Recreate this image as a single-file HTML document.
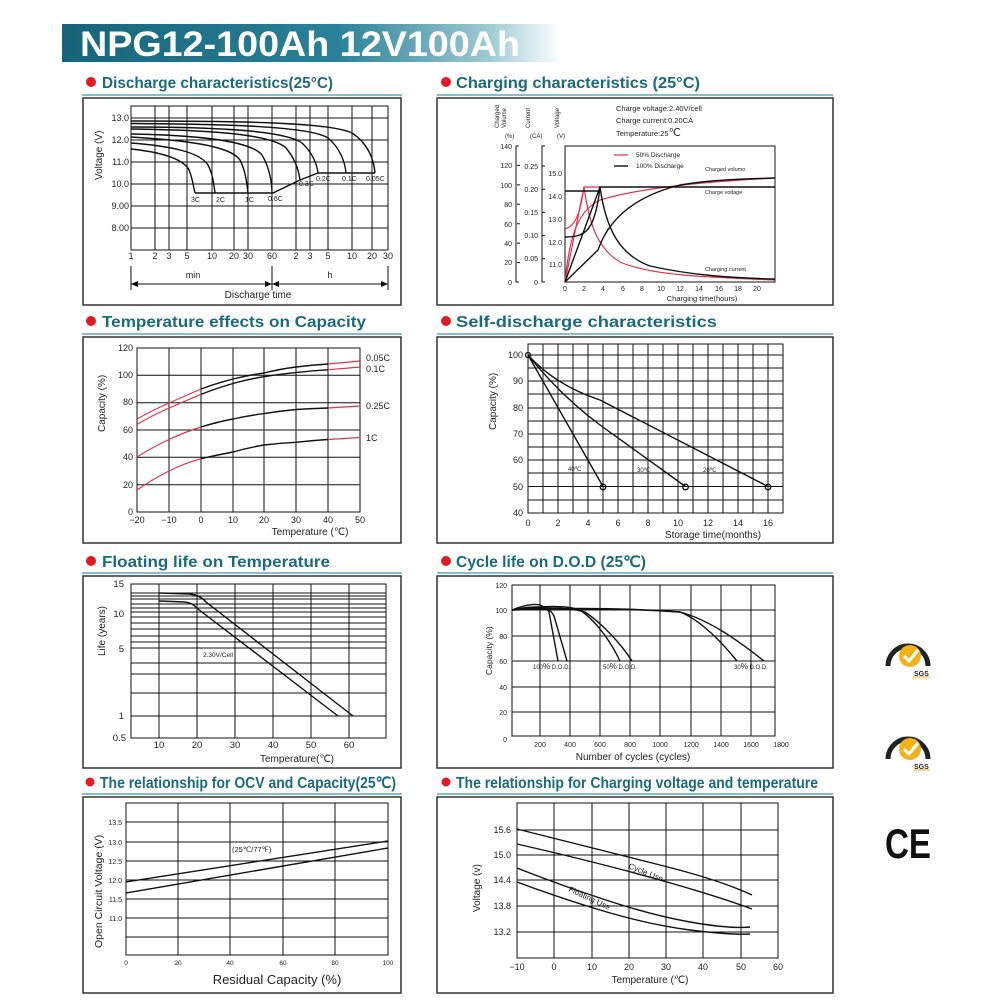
<!DOCTYPE html>
<html><head><meta charset="utf-8"><style>
html,body{margin:0;padding:0;background:#fff}
svg{display:block}
text{font-family:"Liberation Sans",Arial,sans-serif;fill:#222}
.t{font-weight:bold;fill:#1b6b7f;font-size:16px}
.g{stroke:#111;stroke-width:1;fill:none}
.c{stroke:#111;stroke-width:1.4;fill:none}
.r{stroke:#e0334f;stroke-width:1.2;fill:none}
.box{stroke:#333;stroke-width:1.5;fill:none}
.ul{stroke:#5aa9b9;stroke-width:1.5}
.s{font-size:9px}
.xs{font-size:7px}
</style></head><body>
<svg width="1000" height="1000" viewBox="0 0 1000 1000" xmlns="http://www.w3.org/2000/svg">
<defs>
<linearGradient id="hg" x1="0" x2="1" y1="0" y2="0">
<stop offset="0" stop-color="#17647a"/><stop offset="0.55" stop-color="#2a8197"/><stop offset="0.85" stop-color="#9cc9d3"/><stop offset="1" stop-color="#fff"/>
</linearGradient>
</defs>
<rect x="62" y="24" width="500" height="38" fill="url(#hg)"/>
<text x="80" y="56" font-size="35" font-weight="bold" style="fill:#fff" textLength="440" lengthAdjust="spacingAndGlyphs">NPG12-100Ah 12V100Ah</text>

<g>
<circle cx="91" cy="82" r="5" fill="#e01b24"/><text class="t" x="102" y="88" textLength="231" lengthAdjust="spacingAndGlyphs">Discharge characteristics(25°C)</text>
<circle cx="446" cy="82" r="5" fill="#e01b24"/><text class="t" x="456" y="88" textLength="244" lengthAdjust="spacingAndGlyphs">Charging characteristics (25°C)</text>
<circle cx="91" cy="321" r="5" fill="#e01b24"/><text class="t" x="102" y="327" textLength="264" lengthAdjust="spacingAndGlyphs">Temperature effects on Capacity</text>
<circle cx="446" cy="321" r="5" fill="#e01b24"/><text class="t" x="456" y="327" textLength="261" lengthAdjust="spacingAndGlyphs">Self-discharge characteristics</text>
<circle cx="91" cy="561" r="5" fill="#e01b24"/><text class="t" x="102" y="567" font-size="15" textLength="228" lengthAdjust="spacingAndGlyphs">Floating life on Temperature</text>
<circle cx="446" cy="561" r="5" fill="#e01b24"/><text class="t" x="456" y="567" font-size="15" textLength="190" lengthAdjust="spacingAndGlyphs">Cycle life on D.O.D (25℃)</text>
<circle cx="90" cy="782" r="4.5" fill="#e01b24"/><text class="t" x="100" y="788" font-size="14" textLength="296" lengthAdjust="spacingAndGlyphs">The relationship for OCV and Capacity(25℃)</text>
<circle cx="446" cy="782" r="4.5" fill="#e01b24"/><text class="t" x="456" y="788" font-size="14" textLength="362" lengthAdjust="spacingAndGlyphs">The relationship for Charging voltage and temperature</text>
<line class="ul" x1="82" y1="95" x2="402" y2="95"/><line class="ul" x1="437" y1="95" x2="833" y2="95"/>
<line class="ul" x1="82" y1="334" x2="402" y2="334"/><line class="ul" x1="437" y1="334" x2="833" y2="334"/>
<line class="ul" x1="82" y1="573" x2="402" y2="573"/><line class="ul" x1="437" y1="573" x2="833" y2="573"/>
<line class="ul" x1="82" y1="794" x2="402" y2="794"/><line class="ul" x1="437" y1="794" x2="833" y2="794"/>
</g>
<rect class="box" x="83" y="98" width="318" height="207"/>
<rect class="box" x="437" y="98" width="396" height="207"/>
<rect class="box" x="83" y="337" width="318" height="206"/>
<rect class="box" x="437" y="337" width="396" height="206"/>
<rect class="box" x="83" y="576" width="318" height="192"/>
<rect class="box" x="437" y="576" width="396" height="192"/>
<rect class="box" x="83" y="797" width="318" height="196"/>
<rect class="box" x="437" y="797" width="396" height="196"/>

<!-- Panel 1 discharge -->
<g>
<rect class="g" x="131" y="106" width="257" height="144" stroke-width="1.4"/>
<path class="g" stroke-width="1.3" d="M131,118H388M131,140H388M131,162H388M131,184H388M131,206H388M131,228H388
M155,106V250M169,106V250M187,106V250M212,106V250M234,106V250M248,106V250M272,106V250M296,106V250M310,106V250M328,106V250M352,106V250M372,106V250"/>
<g class="c">
<path d="M131,149 C160,152 180,158 188,168 C192,175 193,185 195,193"/>
<path d="M131,143 C170,146 200,152 208,165 C213,175 214,185 215,193"/>
<path d="M131,137 C180,140 230,145 240,160 C246,172 247,185 248,193"/>
<path d="M131,134 C190,135 250,140 262,155 C270,168 272,185 272,193"/>
<path d="M131,129 C200,130 270,133 286,148 C296,160 299,172 300,180"/>
<path d="M131,127 C210,127 285,130 302,143 C313,153 317,165 318,173"/>
<path d="M131,123.5 C220,124 310,126 328,138 C340,148 345,162 346,173"/>
<path d="M131,121 C230,121 330,122 352,133 C368,143 374,160 375,173"/>
<path d="M195,193 H273 L300,180 L318,173 H375"/>
</g>
<g class="xs" font-size="6">
<text x="191" y="202">3C</text><text x="216" y="202">2C</text><text x="245" y="202">1C</text><text x="268" y="201">0.6C</text>
<text x="299" y="186">0.3C</text><text x="316" y="181">0.2C</text><text x="342" y="181">0.1C</text><text x="366" y="181">0.05C</text>
</g>
<g class="s" text-anchor="end">
<text x="129" y="121">13.0</text><text x="129" y="143">12.0</text><text x="129" y="165">11.0</text><text x="129" y="187">10.0</text><text x="129" y="209">9.00</text><text x="129" y="231">8.00</text>
</g>
<g class="s" text-anchor="middle">
<text x="131" y="259">1</text><text x="155" y="259">2</text><text x="169" y="259">3</text><text x="187" y="259">5</text><text x="212" y="259">10</text><text x="234" y="259">20</text><text x="248" y="259">30</text><text x="272" y="259">60</text><text x="296" y="259">2</text><text x="310" y="259">3</text><text x="328" y="259">5</text><text x="352" y="259">10</text><text x="372" y="259">20</text><text x="388" y="259">30</text>
<text x="193" y="278">min</text><text x="330" y="278">h</text>
<text x="258" y="298" font-size="10">Discharge time</text>
</g>
<text x="102" y="180" font-size="10" transform="rotate(-90 102 180)">Voltage (V)</text>
<path class="g" d="M131,266V290M272,266V290M388,266V290M131,284H388"/>
<path d="M131,284l7,-3v6zM272,284l-7,-3v6zM272,284l7,-3v6zM388,284l-7,-3v6z" fill="#111"/>
</g>

<!-- Panel 2 charging -->
<g>
<text x="616" y="111" font-size="7.5">Charge voltage:2.40V/cell</text>
<text x="616" y="123" font-size="7.5">Charge current:0.20CA</text>
<text x="616" y="136" font-size="7.5">Temperature:25<tspan font-size="11">℃</tspan></text>
<g font-size="6">
<text transform="translate(499,128) rotate(-90)">Charged</text>
<text transform="translate(506,128) rotate(-90)">Volume</text>
<text transform="translate(530,128) rotate(-90)">Current</text>
<text transform="translate(559,128) rotate(-90)">Voltage</text>
<text x="505" y="138">(%)</text><text x="530" y="138">(CA)</text><text x="557" y="138">(V)</text>
</g>
<path class="g" d="M519,146H516V282H519M517,165.4h3M517,184.9h3M517,204.3h3M517,223.7h3M517,243.1h3M517,262.6h3"/>
<path class="g" d="M545,146H542V282H545M542,166h3M542,189.2h3M542,212.4h3M542,235.6h3M542,258.8h3"/>
<g font-size="7" text-anchor="end">
<text x="512" y="149">140</text><text x="512" y="168">120</text><text x="512" y="188">100</text><text x="512" y="207">80</text><text x="512" y="227">60</text><text x="512" y="246">40</text><text x="512" y="265">20</text><text x="512" y="285">0</text>
<text x="538" y="169">0.25</text><text x="538" y="192">0.20</text><text x="538" y="215">0.15</text><text x="538" y="238">0.10</text><text x="538" y="261">0.05</text><text x="538" y="285">0</text>
<text x="562" y="176">15.0</text><text x="562" y="199">14.0</text><text x="562" y="222">13.0</text><text x="562" y="245">12.0</text><text x="562" y="267">11.0</text>
</g>
<rect class="g" x="565" y="146" width="210" height="136" stroke-width="1.2"/>
<g font-size="7" text-anchor="middle">
<text x="565" y="291">0</text><text x="584" y="291">2</text><text x="603" y="291">4</text><text x="623" y="291">6</text><text x="642" y="291">8</text><text x="661" y="291">10</text><text x="680" y="291">12</text><text x="699" y="291">14</text><text x="719" y="291">16</text><text x="738" y="291">18</text><text x="757" y="291">20</text>
<text x="702" y="301" font-size="7.5">Charging time(hours)</text>
</g>
<line x1="614" y1="155" x2="628" y2="155" class="r"/><text x="636" y="157" font-size="6.5">50% Discharge</text>
<line x1="614" y1="166" x2="628" y2="166" class="c"/><text x="636" y="168" font-size="6.5">100% Discharge</text>
<text x="705" y="171" font-size="5.5">Charged volumo</text>
<text x="705" y="194" font-size="5.5">Charge voltage</text>
<text x="705" y="271" font-size="5.5">Charging current</text>
<path class="r" d="M565,229 C575,226 580,215 584,187 H600"/>
<path class="r" d="M565,282 L584,187 C590,230 600,250 620,262 C650,275 700,277 775,280"/>
<path class="r" d="M565,282 C570,230 580,210 600,200 C640,188 700,182 775,178"/>
<path class="c" d="M565,191 H600 V187 H775"/>
<path class="c" d="M565,237 C585,237 595,232 600,187"/>
<path class="c" d="M565,282 L600,187 C606,230 620,255 650,266 C690,275 730,278 775,279"/>
<path class="c" d="M565,282 L598,250 C610,215 640,195 680,185 C710,180 740,179 775,178"/>
</g>

<!-- Panel 3 temperature -->
<g>
<rect class="g" x="137" y="348" width="223" height="164" stroke-width="1.3"/>
<path class="g" stroke-width="1.3" d="M137,484.7H360M137,457.3H360M137,430H360M137,402.7H360M137,375.3H360M169,348V512M201,348V512M233,348V512M264,348V512M296,348V512M328,348V512"/>
<path class="r" d="M137,419 Q153,410 169,403 T201,389"/>
<path class="c" d="M201,389 Q217,383 233,379 Q249,375 264,373 Q280,369 296,367 Q312,365 328,364"/>
<path class="r" d="M328,364 L360,361"/>
<path class="r" d="M137,424.5 Q153,415 169,408 T201,394.4"/>
<path class="c" d="M201,394.4 Q217,388 233,383.5 Q249,379 264,376.7 Q280,374 296,372.6 Q312,370.5 328,369.8"/>
<path class="r" d="M328,369.8 L360,367"/>
<path class="r" d="M137,457 Q153,447 169,439.5 T201,427"/>
<path class="c" d="M201,427 Q217,422 233,419 Q249,415.5 264,413.6 Q280,411 296,409.5 Q312,408.5 328,408"/>
<path class="r" d="M328,408 L360,406"/>
<path class="r" d="M137,490 Q153,479 169,471 T201,458.7"/>
<path class="c" d="M201,458.7 Q217,455 233,452 Q249,447.5 264,445 Q280,443 296,442.3 Q312,440.5 328,439.5"/>
<path class="r" d="M328,439.5 L360,437.5"/>
<g font-size="9">
<text x="366" y="361">0.05C</text><text x="366" y="372">0.1C</text><text x="366" y="409">0.25C</text><text x="366" y="441">1C</text>
</g>
<g font-size="9" text-anchor="end">
<text x="133" y="351">120</text><text x="133" y="378">100</text><text x="133" y="405">80</text><text x="133" y="433">60</text><text x="133" y="460">40</text><text x="133" y="488">20</text><text x="133" y="515">0</text>
</g>
<g font-size="9" text-anchor="middle">
<text x="137" y="523">−20</text><text x="169" y="523">−10</text><text x="201" y="523">0</text><text x="233" y="523">10</text><text x="264" y="523">20</text><text x="296" y="523">30</text><text x="328" y="523">40</text><text x="360" y="523">50</text>
<text x="310" y="535" font-size="10">Temperature (℃)</text>
</g>
<text font-size="10" transform="translate(105,432) rotate(-90)">Capacity  (%)</text>
</g>

<!-- Panel 4 self-discharge -->
<g>
<rect class="g" x="528" y="344" width="255" height="169" stroke-width="1.2"/>
<path class="g" d="M543,344V513M558,344V513M573,344V513M588,344V513M603,344V513M618,344V513M633,344V513M648,344V513M663,344V513M678,344V513M693,344V513M708,344V513M723,344V513M738,344V513M753,344V513M768,344V513
M528,355H783M528,368H783M528,381H783M528,394H783M528,408H783M528,421H783M528,434H783M528,447H783M528,460H783M528,473H783M528,486.5H783M528,500H783"/>
<path class="c" d="M528,355 L603,486.5"/>
<path class="c" d="M528,355 Q560,395 600,425 L685.5,486.5"/>
<path class="c" d="M528,355 Q555,385 600,400 L768,486.5"/>
<g fill="none" stroke="#111" stroke-width="1.3"><circle cx="603" cy="487" r="2.8"/><circle cx="685.5" cy="487" r="2.8"/><circle cx="768" cy="487" r="2.8"/><circle cx="528" cy="355" r="2.5"/></g>
<g font-size="6"><text x="568" y="471">40℃</text><text x="637" y="472">30℃</text><text x="703" y="472">20℃</text></g>
<g font-size="9" text-anchor="end">
<text x="523" y="358">100</text><text x="523" y="384">90</text><text x="523" y="411">80</text><text x="523" y="437">70</text><text x="523" y="463">60</text><text x="523" y="490">50</text><text x="523" y="516">40</text>
</g>
<g font-size="9" text-anchor="middle">
<text x="528" y="526">0</text><text x="558" y="526">2</text><text x="588" y="526">4</text><text x="618" y="526">6</text><text x="648" y="526">8</text><text x="678" y="526">10</text><text x="708" y="526">12</text><text x="738" y="526">14</text><text x="768" y="526">16</text>
<text x="713" y="538" font-size="10">Storage time(months)</text>
</g>
<text font-size="10" transform="translate(496,430) rotate(-90)">Capacity (%)</text>
</g>

<!-- Panel 5 floating -->
<g>
<rect class="g" x="131" y="584" width="255" height="154" stroke-width="1.2"/>
<path class="g" d="M131,593H386M131,596H386M131,599H386M131,604H386M131,608H386M131,612H386M131,617H386M131,623H386M131,629H386M131,636H386M131,642H386M131,648H386M131,663H386M131,674H386M131,693H386M131,716H386
M159,584V738M197,584V738M235,584V738M273,584V738M311,584V738M349,584V738"/>
<path class="c" d="M159,593 L190,594 Q200,595 206,602 L353,716" stroke-width="1.2"/>
<path class="c" d="M159,601 L185,602 Q193,603 198,609 L338,716" stroke-width="1.2"/>
<text x="203" y="657" font-size="6.5">2.30V/Cell</text>
<g font-size="9.5" text-anchor="end">
<text x="124" y="587">15</text><text x="124" y="617">10</text><text x="124" y="652">5</text><text x="124" y="719">1</text><text x="126" y="741">0.5</text>
</g>
<g font-size="9.5" text-anchor="middle">
<text x="159" y="748">10</text><text x="197" y="748">20</text><text x="235" y="748">30</text><text x="273" y="748">40</text><text x="311" y="748">50</text><text x="349" y="748">60</text>
<text x="297" y="762" font-size="10">Temperature(℃)</text>
</g>
<text font-size="10" transform="translate(105,656) rotate(-90)">Life (years)</text>
</g>

<!-- Panel 6 cycle life -->
<g>
<rect class="g" x="512" y="585" width="263" height="151" stroke-width="1.1"/>
<path class="g" d="M512,610H775M512,636H775M512,661H775M512,687H775M512,712H775
M540,585V736M570,585V736M600,585V736M630,585V736M660,585V736M691,585V736M721,585V736M751,585V736"/>
<g class="c" stroke-width="1.1">
<path d="M512,610 C522,606 532,603 540,605 C545,607 548,610 549,612 L558,661"/>
<path d="M512,610 C525,607 537,606 546,608 C550,610 552,612 554,616 L567,661"/>
<path d="M512,610 Q560,603 580,610 C595,620 610,640 620,661"/>
<path d="M512,610 Q560,605 585,612 C600,622 620,642 632,661"/>
<path d="M512,610 Q600,606 680,612 C700,620 720,640 737,661"/>
<path d="M512,610 Q600,607 680,612 C710,620 740,642 764,661"/>
</g>
<g font-size="6">
<text x="533" y="669">100<tspan font-size="8">%</tspan> D.O.D.</text>
<text x="603" y="669">50<tspan font-size="8">%</tspan> D.O.D.</text>
<text x="734" y="669">30<tspan font-size="8">%</tspan> D.O.D.</text>
</g>
<g font-size="7" text-anchor="end">
<text x="507" y="588">120</text><text x="507" y="613">100</text><text x="507" y="639">80</text><text x="507" y="664">60</text><text x="507" y="690">40</text><text x="507" y="715">20</text><text x="507" y="742">0</text>
</g>
<g font-size="7" text-anchor="middle">
<text x="540" y="747">200</text><text x="570" y="747">400</text><text x="600" y="747">600</text><text x="630" y="747">800</text><text x="660" y="747">1000</text><text x="691" y="747">1200</text><text x="721" y="747">1400</text><text x="751" y="747">1600</text><text x="781" y="747">1800</text>
<text x="633" y="760" font-size="10">Number of cycles (cycles)</text>
</g>
<text font-size="8.5" transform="translate(492,675) rotate(-90)">Capacity  (%)</text>
</g>

<!-- Panel 7 OCV -->
<g>
<rect class="g" x="126" y="803" width="262" height="152" stroke-width="1.2"/>
<path class="g" d="M126,822H388M126,842H388M126,861H388M126,880H388M126,899H388M126,918H388M126,937H388
M178,803V955M230,803V955M283,803V955M335,803V955"/>
<path class="c" d="M126,882 L388,841"/>
<path class="c" d="M126,893 L388,848"/>
<text x="232" y="852" font-size="7.5">(25℃/77℉)</text>
<g font-size="7" text-anchor="end">
<text x="122" y="825">13.5</text><text x="122" y="845">13.0</text><text x="122" y="864">12.5</text><text x="122" y="883">12.0</text><text x="122" y="902">11.5</text><text x="122" y="921">11.0</text>
</g>
<g font-size="6.5" text-anchor="middle">
<text x="126" y="965">0</text><text x="178" y="965">20</text><text x="230" y="965">40</text><text x="283" y="965">60</text><text x="335" y="965">80</text><text x="388" y="965">100</text>
<text x="277" y="984" font-size="13">Residual Capacity (%)</text>
</g>
<text font-size="10.5" transform="translate(102,948) rotate(-90)">Open Circuit Voltage (V)</text>
</g>

<!-- Panel 8 -->
<g>
<rect class="g" x="517" y="803" width="261" height="155" stroke-width="1.3"/>
<path class="g" stroke-width="1.3" d="M517,830H778M517,855H778M517,880H778M517,906H778M517,932H778
M554,803V958M592,803V958M629,803V958M666,803V958M703,803V958M741,803V958"/>
<path class="c" d="M517,829 Q600,850 660,865 T752,895"/>
<path class="c" d="M517,844 Q600,863 660,880 T752,909"/>
<path class="c" d="M517,868 Q560,885 600,898 Q650,915 690,922 T750,927"/>
<path class="c" d="M517,882 Q560,898 600,910 Q650,925 690,930 T750,934"/>
<text font-size="8" transform="translate(628,868) rotate(22)">Cycle Use</text>
<text font-size="8" transform="translate(568,891) rotate(25)">Floating Use</text>
<g font-size="9" text-anchor="end">
<text x="511" y="833">15.6</text><text x="511" y="858">15.0</text><text x="511" y="883">14.4</text><text x="511" y="909">13.8</text><text x="511" y="935">13.2</text>
</g>
<g font-size="9" text-anchor="middle">
<text x="517" y="970">−10</text><text x="554" y="970">0</text><text x="592" y="970">10</text><text x="629" y="970">20</text><text x="666" y="970">30</text><text x="703" y="970">40</text><text x="741" y="970">50</text><text x="778" y="970">60</text>
<text x="650" y="983" font-size="10">Temperature (℃)</text>
</g>
<text font-size="10" transform="translate(480,912) rotate(-90)">Voltage  (v)</text>
</g>

<!-- logos -->
<g>
<g transform="translate(908,652)">
<path d="M-20,14 A20,20 0 1 1 20,14" fill="none" stroke="#222" stroke-width="5"/>
<circle cx="2" cy="4" r="11" fill="#f2b21c"/>
<path d="M-4,4 l5,5 l9,-11" fill="none" stroke="#fff" stroke-width="3"/>
<text x="6" y="24" font-size="7" font-weight="bold" style="fill:#222">SGS</text>
<line x1="5" y1="25" x2="22" y2="25" stroke="#f2b21c" stroke-width="1"/>
</g>
<g transform="translate(908,745)">
<path d="M-20,14 A20,20 0 1 1 20,14" fill="none" stroke="#222" stroke-width="5"/>
<circle cx="2" cy="4" r="11" fill="#f2b21c"/>
<path d="M-4,4 l5,5 l9,-11" fill="none" stroke="#fff" stroke-width="3"/>
<text x="6" y="24" font-size="7" font-weight="bold" style="fill:#222">SGS</text>
<line x1="5" y1="25" x2="22" y2="25" stroke="#f2b21c" stroke-width="1"/>
</g>
<text x="908" y="858" font-size="42" font-weight="bold" text-anchor="middle" style="fill:#111" textLength="46" lengthAdjust="spacingAndGlyphs">CE</text>
</g>
</svg>
</body></html>
